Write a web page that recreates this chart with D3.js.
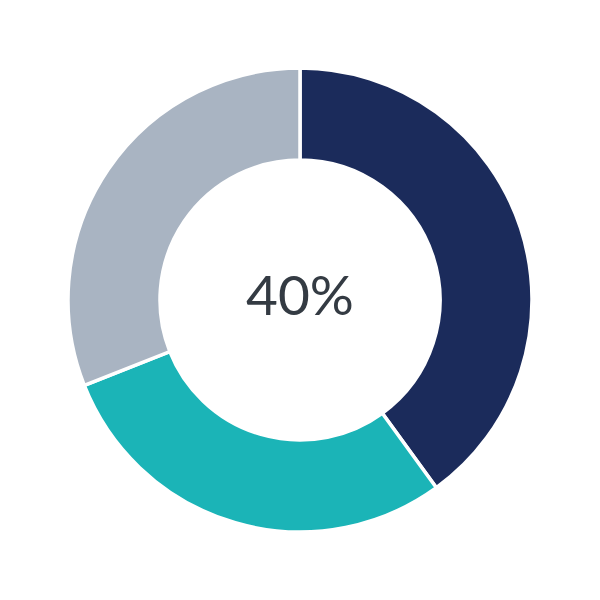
<!DOCTYPE html>
<html>
<head>
<meta charset="utf-8">
<script src="https://cdn.jsdelivr.net/npm/d3@7"></script>
<style>
  body { margin: 0; background: #fff; }
</style>
</head>
<body>
<div id="chart"></div>
<script>
// datos
const categories = ["A", "B", "C"]
const values = [40, 29, 31]
const colors = ["#1b2b5b", "#1bb4b7", "#a9b4c2"]
const centerLabel = "40%"

const width = 600
const height = 600
const outerR = 232
const innerR = 140

const svg = d3.select("#chart").append("svg").attr("width", width).attr("height", height)
const g = svg.append("g").attr("transform", `translate(${width / 2}, ${height / 2})`)

const data = categories.map((c, i) => ({ cat: c, value: values[i] }))
const pie = d3.pie().value(d => d.value).sort(null)
const arc = d3.arc().innerRadius(innerR).outerRadius(outerR)
const color = d3.scaleOrdinal().domain(categories).range(colors)

g.selectAll(".slice").data(pie(data)).enter().append("path")
    .attr("class", "slice")
    .attr("d", arc)
    .attr("fill", d => color(d.data.cat))
    .attr("stroke", "#fff")
    .attr("stroke-width", 3.5)

// texto central
g.append("text")
    .attr("text-anchor", "middle")
    .attr("y", 15)
    .attr("font-family", "Lato, sans-serif")
    .attr("font-weight", 400)
    .attr("font-size", 55)
    .attr("fill", "#343b43")
    .text(centerLabel)
</script>
</body>
</html>
